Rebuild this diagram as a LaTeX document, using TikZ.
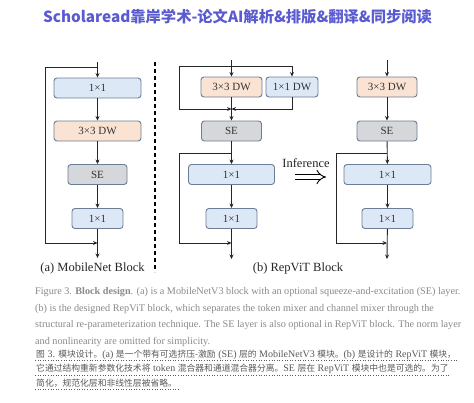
\documentclass[tikz,border=0pt]{standalone}
\usepackage{fontspec}
\setmainfont{Liberation Serif}
\newfontfamily\cjk{Noto Sans CJK SC}
\usetikzlibrary{arrows.meta,positioning}

\definecolor{convfill}{HTML}{DCE8F6}
\definecolor{dwfill}{HTML}{FBE3D3}
\definecolor{sefill}{HTML}{D6D7DB}
\definecolor{boxline}{HTML}{6B7E96}
\definecolor{titleblue}{HTML}{5A5BD0}
\definecolor{capgray}{HTML}{8A8A8A}
\definecolor{zhgray}{HTML}{5A5A5A}

\newcommand{\zh}[1]{{\cjk\fontsize{8.8}{10}\selectfont #1}}

\tikzset{
  blk/.style={draw=boxline, line width=0.9pt, rounded corners=3pt,
    minimum height=20pt, inner sep=0pt, text=black!80,
    font=\fontsize{11}{12}\selectfont},
  convblk/.style={blk, fill=convfill},
  dwblk/.style={blk, fill=dwfill},
  seblk/.style={blk, fill=sefill},
  flow/.style={-{Stealth[length=4.5pt,width=4pt]}, line width=0.9pt, black!85},
  sublabel/.style={font=\fontsize{12.5}{14}\selectfont, text=black!85},
  capline/.style={anchor=west, inner sep=0pt, text=capgray,
    font=\fontsize{10.2}{11}\selectfont},
  zhline/.style={anchor=west, inner sep=1pt, text=zhgray,
    font=\fontsize{10}{11}\selectfont},
  uline/.style={dotted, line width=0.6pt, zhgray},
}

\begin{document}
\begin{tikzpicture}[x=1pt, y=-1pt]

    \useasboundingbox (0,0) rectangle (474,402);
    \fill[white] (0,0) rectangle (474,402);

    % title
    \node[font=\cjk\bfseries\fontsize{15.3}{17}\selectfont, text=titleblue] (title) at (237.5,17)
        {Scholaread靠岸学术-论文AI解析\&排版\&翻译\&同步阅读};

    % (a) MobileNet block
    \node[convblk, minimum width=87pt] (a1) at (97.5,88) {1×1};
    \node[dwblk, minimum width=87pt] (a2) at (97.5,131) {3×3 DW};
    \node[seblk, minimum width=59pt] (a3) at (97.5,174.5) {SE};
    \node[convblk, minimum width=51pt] (a4) at (97.5,218.5) {1×1};

    \coordinate (a-in) at (97.5,62);
    \coordinate (a-split) at (97.5,67);
    \coordinate (a-join) at (97.5,243);
    \coordinate (a-out) at (97.5,258);

    \draw[flow] (a-in) -- (a1);
    \draw[flow] (a1) -- (a2);
    \draw[flow] (a2) -- (a3);
    \draw[flow] (a3) -- (a4);
    \draw[flow] (a4) -- (a-out);
    \draw[flow] (a-split) -- ++(-52,0) |- (a-join);

    \node[sublabel] (a-label) at (92.5,268) {(a) MobileNet Block};

    % separator
    \draw[line width=1.4pt, dash pattern=on 4pt off 3pt] (155,62) -- (155,272);

    % (b) RepViT block, training form
    \node[dwblk, minimum width=61pt] (b-dw3) at (231.5,87) {3×3 DW};
    \node[convblk, minimum width=52pt] (b-dw1) at (292,87) {1×1 DW};
    \node[seblk, minimum width=60pt] (b-se) at (231.5,131) {SE};
    \node[convblk, minimum width=86pt] (b-c1) at (231.5,174.5) {1×1};
    \node[convblk, minimum width=51pt] (b-c2) at (231.5,218.5) {1×1};

    \coordinate (b-in) at (231.5,60);
    \coordinate (b-split) at (231.5,66);
    \coordinate (b-merge) at (231.5,109);
    \coordinate (b-split2) at (231.5,153);
    \coordinate (b-join) at (231.5,243);
    \coordinate (b-out) at (231.5,259);

    \draw[flow] (b-in) -- (b-dw3);
    \draw[flow] (b-split) -| (b-dw1);
    \draw[flow] (b-split) -- ++(-52,0) |- (b-merge);
    \draw[flow] (b-dw1) |- (b-merge);
    \draw[flow] (b-dw3) -- (b-se);
    \draw[flow] (b-se) -- (b-c1);
    \draw[flow] (b-split2) -- ++(-52,0) |- (b-join);
    \draw[flow] (b-c1) -- (b-c2);
    \draw[flow] (b-c2) -- (b-out);

    % inference arrow
    \node[sublabel] (inf) at (306,163) {Inference};
    \coordinate (inf-l) at (295,177);
    \coordinate (inf-r) at (326,177);
    \draw[line width=0.9pt, double distance=4.2pt, -{Implies}] (inf-l) -- (inf-r);

    % (b) RepViT block, inference form
    \node[dwblk, minimum width=60pt] (c-dw3) at (387,87) {3×3 DW};
    \node[seblk, minimum width=60pt] (c-se) at (387,131) {SE};
    \node[convblk, minimum width=87pt] (c-c1) at (387.5,174.5) {1×1};
    \node[convblk, minimum width=51pt] (c-c2) at (387.5,218.5) {1×1};

    \coordinate (c-in) at (387,60);
    \coordinate (c-split) at (387,153);
    \coordinate (c-join) at (387,243);
    \coordinate (c-out) at (387,259);

    \draw[flow] (c-in) -- (c-dw3);
    \draw[flow] (c-dw3) -- (c-se);
    \draw[flow] (c-se) -- (c-c1);
    \draw[flow] (c-split) -- ++(-51,0) |- (c-join);
    \draw[flow] (c-c1) -- (c-c2);
    \draw[flow] (c-c2) -- (c-out);

    \node[sublabel] (b-label) at (298,268) {(b) RepViT Block};

    % english caption
    \node[capline] (cap1) at (35,292) {Figure 3. \textbf{Block design}. (a) is a MobileNetV3 block with an optional squeeze-and-excitation (SE) layer.};
    \node[capline] (cap2) at (35,309) {(b) is the designed RepViT block, which separates the token mixer and channel mixer through the};
    \node[capline] (cap3) at (35,325.5) {structural re-parameterization technique. The SE layer is also optional in RepViT block. The norm layer};
    \node[capline] (cap4) at (35,342) {and nonlinearity are omitted for simplicity.};

    % chinese caption
    \node[zhline] (zh1) at (35,354.5) {\zh{图} 3. \zh{模块设计。}(a) \zh{是一个带有可选挤压-激励} (SE) \zh{层的} MobileNetV3 \zh{模块。}(b) \zh{是设计的} RepViT \zh{模块，}};
    \node[zhline] (zh2) at (35,369) {\zh{它通过结构重新参数化技术将} token \zh{混合器和通道混合器分离。}SE \zh{层在} RepViT \zh{模块中也是可选的。为了}};
    \node[zhline] (zh3) at (35,383.5) {\zh{简化，规范化层和非线性层被省略。}};
    \draw[uline] (zh1.south west) -- (zh1.south east);
    \draw[uline] (zh2.south west) -- (zh2.south east);
    \draw[uline] (zh3.south west) -- (zh3.south east);

\end{tikzpicture}
\end{document}
